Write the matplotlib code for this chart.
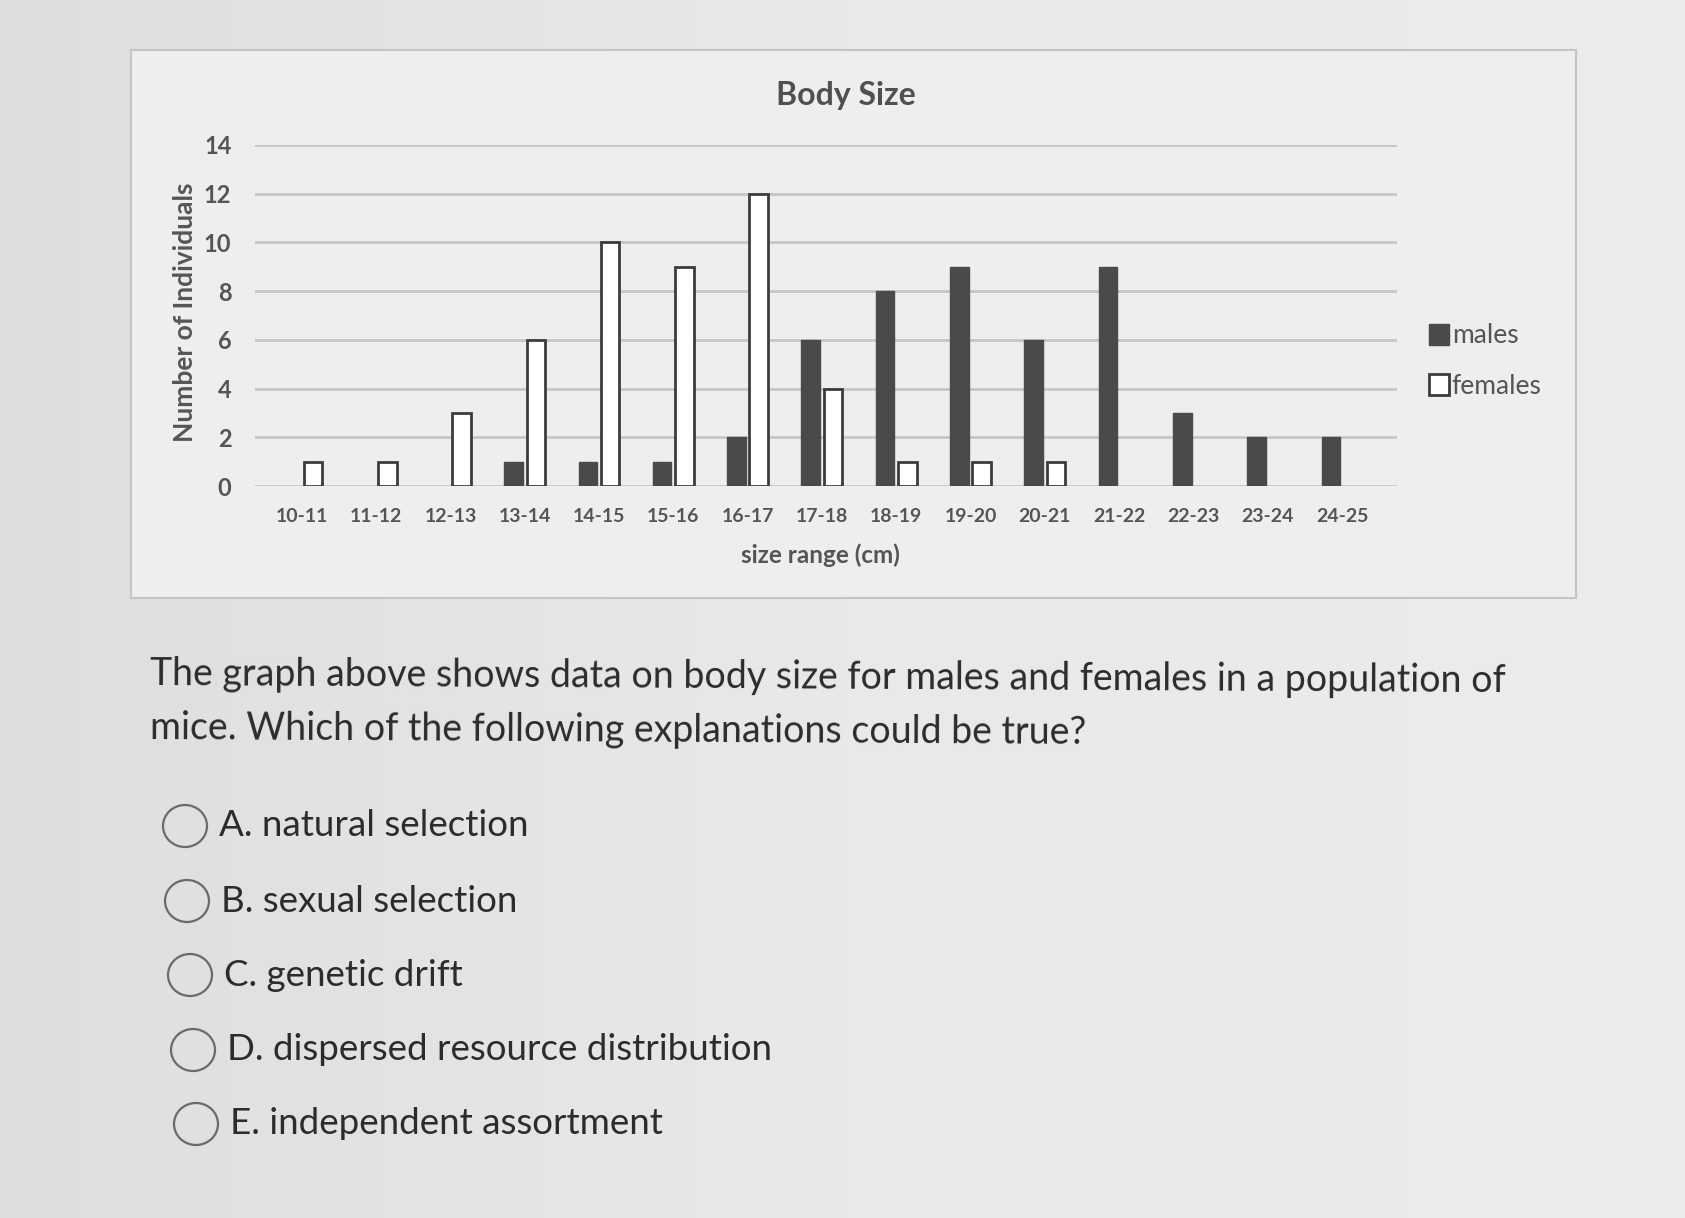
import numpy as np
import matplotlib.pyplot as plt
from matplotlib.patches import Rectangle, Ellipse

W, H = 1685, 1218

SIZE_RANGES = ["10-11", "11-12", "12-13", "13-14", "14-15", "15-16", "16-17", "17-18",
               "18-19", "19-20", "20-21", "21-22", "22-23", "23-24", "24-25"]
MALES   = [0, 0, 0, 1, 1, 1, 2, 6, 8, 9, 6, 9, 3, 2, 2]
FEMALES = [1, 1, 3, 6, 10, 9, 12, 4, 1, 1, 1, 0, 0, 0, 0]
Y_TICKS = [0, 2, 4, 6, 8, 10, 12, 14]

QUESTION = ["The graph above shows data on body size for males and females in a population of",
            "mice. Which of the following explanations could be true?"]
OPTIONS = ["A. natural selection", "B. sexual selection", "C. genetic drift",
           "D. dispersed resource distribution", "E. independent assortment"]

FONT = "Lato"
GREY_TXT = "#555555"
DARK = "#4a4a4a"

fig = plt.figure(figsize=(W / 100, H / 100), dpi=100)

# bakgrunn / side (pikselkoordinater)
bg = fig.add_axes([0, 0, 1, 1], zorder=-1)
bg.set_xlim(0, W)
bg.set_ylim(H, 0)
bg.axis("off")
grad = np.linspace(0, 1, 256)[None, :]
bg.imshow(grad, cmap=plt.matplotlib.colors.LinearSegmentedColormap.from_list(
    "pg", ["#dedede", "#e9e9e9", "#ececec"]), extent=(0, W, H, 0), aspect="auto")
bg.add_patch(Rectangle((131, 50), 1445, 548, facecolor="#eeeeee",
                       edgecolor="#c4c4c4", linewidth=1.5))

# spørsmålstekst
for i, line in enumerate(QUESTION):
    bg.text(150, 674 + i * 54, line, fontsize=27, family=FONT, color="#2c2c2c",
            va="center", ha="left", rotation=-0.3, rotation_mode="anchor")

opt_x = [185, 187, 190, 193, 196]
opt_y = [826, 901, 975, 1050, 1124]
for x, y, txt in zip(opt_x, opt_y, OPTIONS):
    bg.add_patch(Ellipse((x, y), 44, 42, facecolor="none", edgecolor="#6a6a6a", linewidth=1.6))
    bg.text(x + 34, y, txt, fontsize=26.5, family=FONT, color="#2c2c2c",
            va="center", ha="left")

# diagrammet
ax = fig.add_axes([255 / W, 1 - 486 / H, 1142 / W, 341 / H])
ax.set_facecolor("none")
x = np.arange(len(SIZE_RANGES))
bw = 0.25
m_idx = [i for i, v in enumerate(MALES) if v > 0]
f_idx = [i for i, v in enumerate(FEMALES) if v > 0]
males = ax.bar(x[m_idx] - 0.15, [MALES[i] for i in m_idx], width=bw,
               color=DARK, edgecolor=DARK, linewidth=1, zorder=3, label="males")
females = ax.bar(x[f_idx] + 0.15, [FEMALES[i] for i in f_idx], width=bw,
                 color="white", edgecolor="#3c3c3c", linewidth=2, zorder=3, label="females")

ax.set_xlim(-0.63, 14.74)
ax.set_ylim(0, 14)
ax.set_yticks(Y_TICKS)
ax.set_yticklabels([str(t) for t in Y_TICKS], family=FONT, fontsize=17, color=GREY_TXT,
                   fontweight="bold")
ax.set_xticks(x)
ax.set_xticklabels(SIZE_RANGES, family=FONT, fontsize=14, color=GREY_TXT, fontweight="bold")
ax.tick_params(length=0)
ax.tick_params(axis="y", pad=17)
ax.tick_params(axis="x", pad=16)
for s in ax.spines.values():
    s.set_visible(False)
ax.yaxis.grid(True, color="#c6c6c6", linewidth=2)
ax.set_axisbelow(True)

fig.text(846 / W, 1 - 95 / H, "Body Size", family=FONT, fontsize=23, color="#505050",
         fontweight="bold", ha="center", va="center")
fig.text(185 / W, 1 - 312 / H, "Number of Individuals", family=FONT, fontsize=19,
         color=GREY_TXT, fontweight="bold", rotation=90, ha="center", va="center")
fig.text(820 / W, 1 - 555 / H, "size range (cm)", family=FONT, fontsize=17.5,
         color=GREY_TXT, fontweight="bold", ha="center", va="center")

leg = ax.legend(handles=[males, females], loc="center left",
                bbox_to_anchor=(1405 / W, 1 - 361 / H), bbox_transform=fig.transFigure,
                frameon=False, handlelength=0.75, handleheight=0.85, handletextpad=0.12,
                labelspacing=0.95, prop={"family": FONT, "size": 19})
for t in leg.get_texts():
    t.set_color(GREY_TXT)

fig.savefig("out.png", dpi=100)
